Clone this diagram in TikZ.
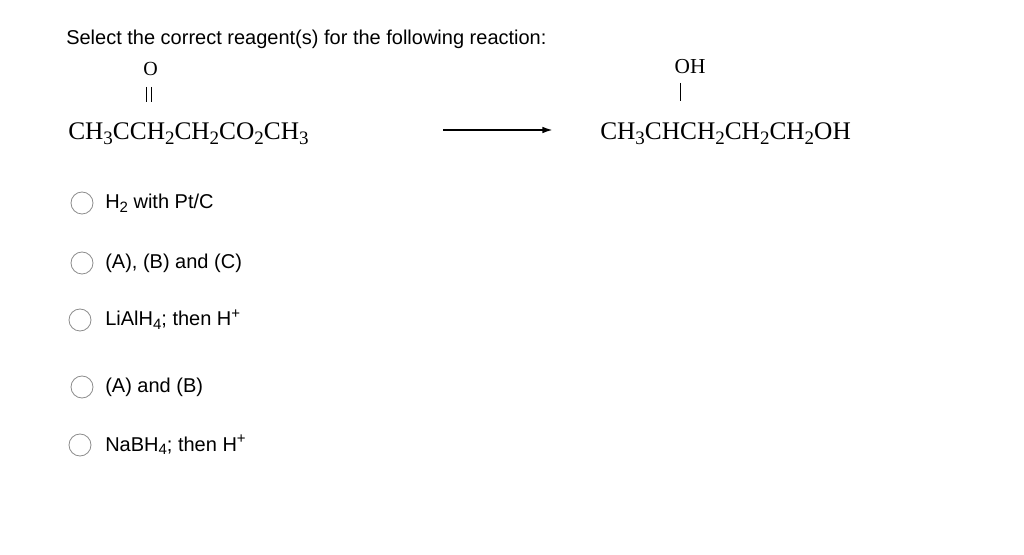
\documentclass[tikz,border=0pt]{standalone}
\usepackage{fontspec}
\usetikzlibrary{arrows.meta}
\setmainfont{Liberation Sans}
\newfontfamily\chem{Liberation Serif}
\newcommand{\sbs}[1]{\raisebox{-0.35ex}{\scalebox{0.75}{#1}}}
\newcommand{\sps}[1]{\raisebox{0.7ex}{\scalebox{0.75}{#1}}}
\begin{document}
\begin{tikzpicture}[x=0.75pt,y=-0.75pt,
  txt/.style={font=\fontsize{15}{18}\selectfont,anchor=base west,inner sep=0pt},
  chm/.style={font=\chem\fontsize{19}{22}\selectfont,anchor=base west,inner sep=0pt},
  radio/.style={circle,draw=black!45,line width=0.6pt,minimum size=16.5pt,inner sep=0pt}]
\useasboundingbox (0,0) rectangle (1024,555);
\node[txt] (title) at (66,45) {Select the correct reagent(s) for the following reaction:};
\node[chm] (lf) at (68,140) {CH\sbs{3}CCH\sbs{2}CH\sbs{2}CO\sbs{2}CH\sbs{3}};
\node[chm] (lo) at (143,76) {\fontsize{15}{18}\selectfont O};
\draw[line width=0.6pt] (146.5,87) -- (146.5,102) (151.5,87) -- (151.5,102);
\node[chm] (rf) at (600,140) {CH\sbs{3}CHCH\sbs{2}CH\sbs{2}CH\sbs{2}OH};
\node[chm,anchor=base] (ro) at (690,74) {\fontsize{16}{18}\selectfont OH};
\draw[line width=0.6pt] (680,83) -- (680,101);
\coordinate (a1) at (443,130); \coordinate (a2) at (553,130);
\draw[line width=1.4pt,-{Latex[length=8pt,width=5pt]}] (a1) -- (a2);
\foreach \y/\ox/\t [count=\i] in {203/82/{H\sbs{2} with Pt/C},263/82/{(A), (B) and (C)},320/80/{LiAlH\sbs{4}; then H\sps{+}},387/82/{(A) and (B)},445/80/{NaBH\sbs{4}; then H\sps{+}}}{
  \node[radio] (r\i) at (\ox,\y) {};
  \node[txt] (o\i) at (105,\y+6) {\t};
}
\end{tikzpicture}
\end{document}
